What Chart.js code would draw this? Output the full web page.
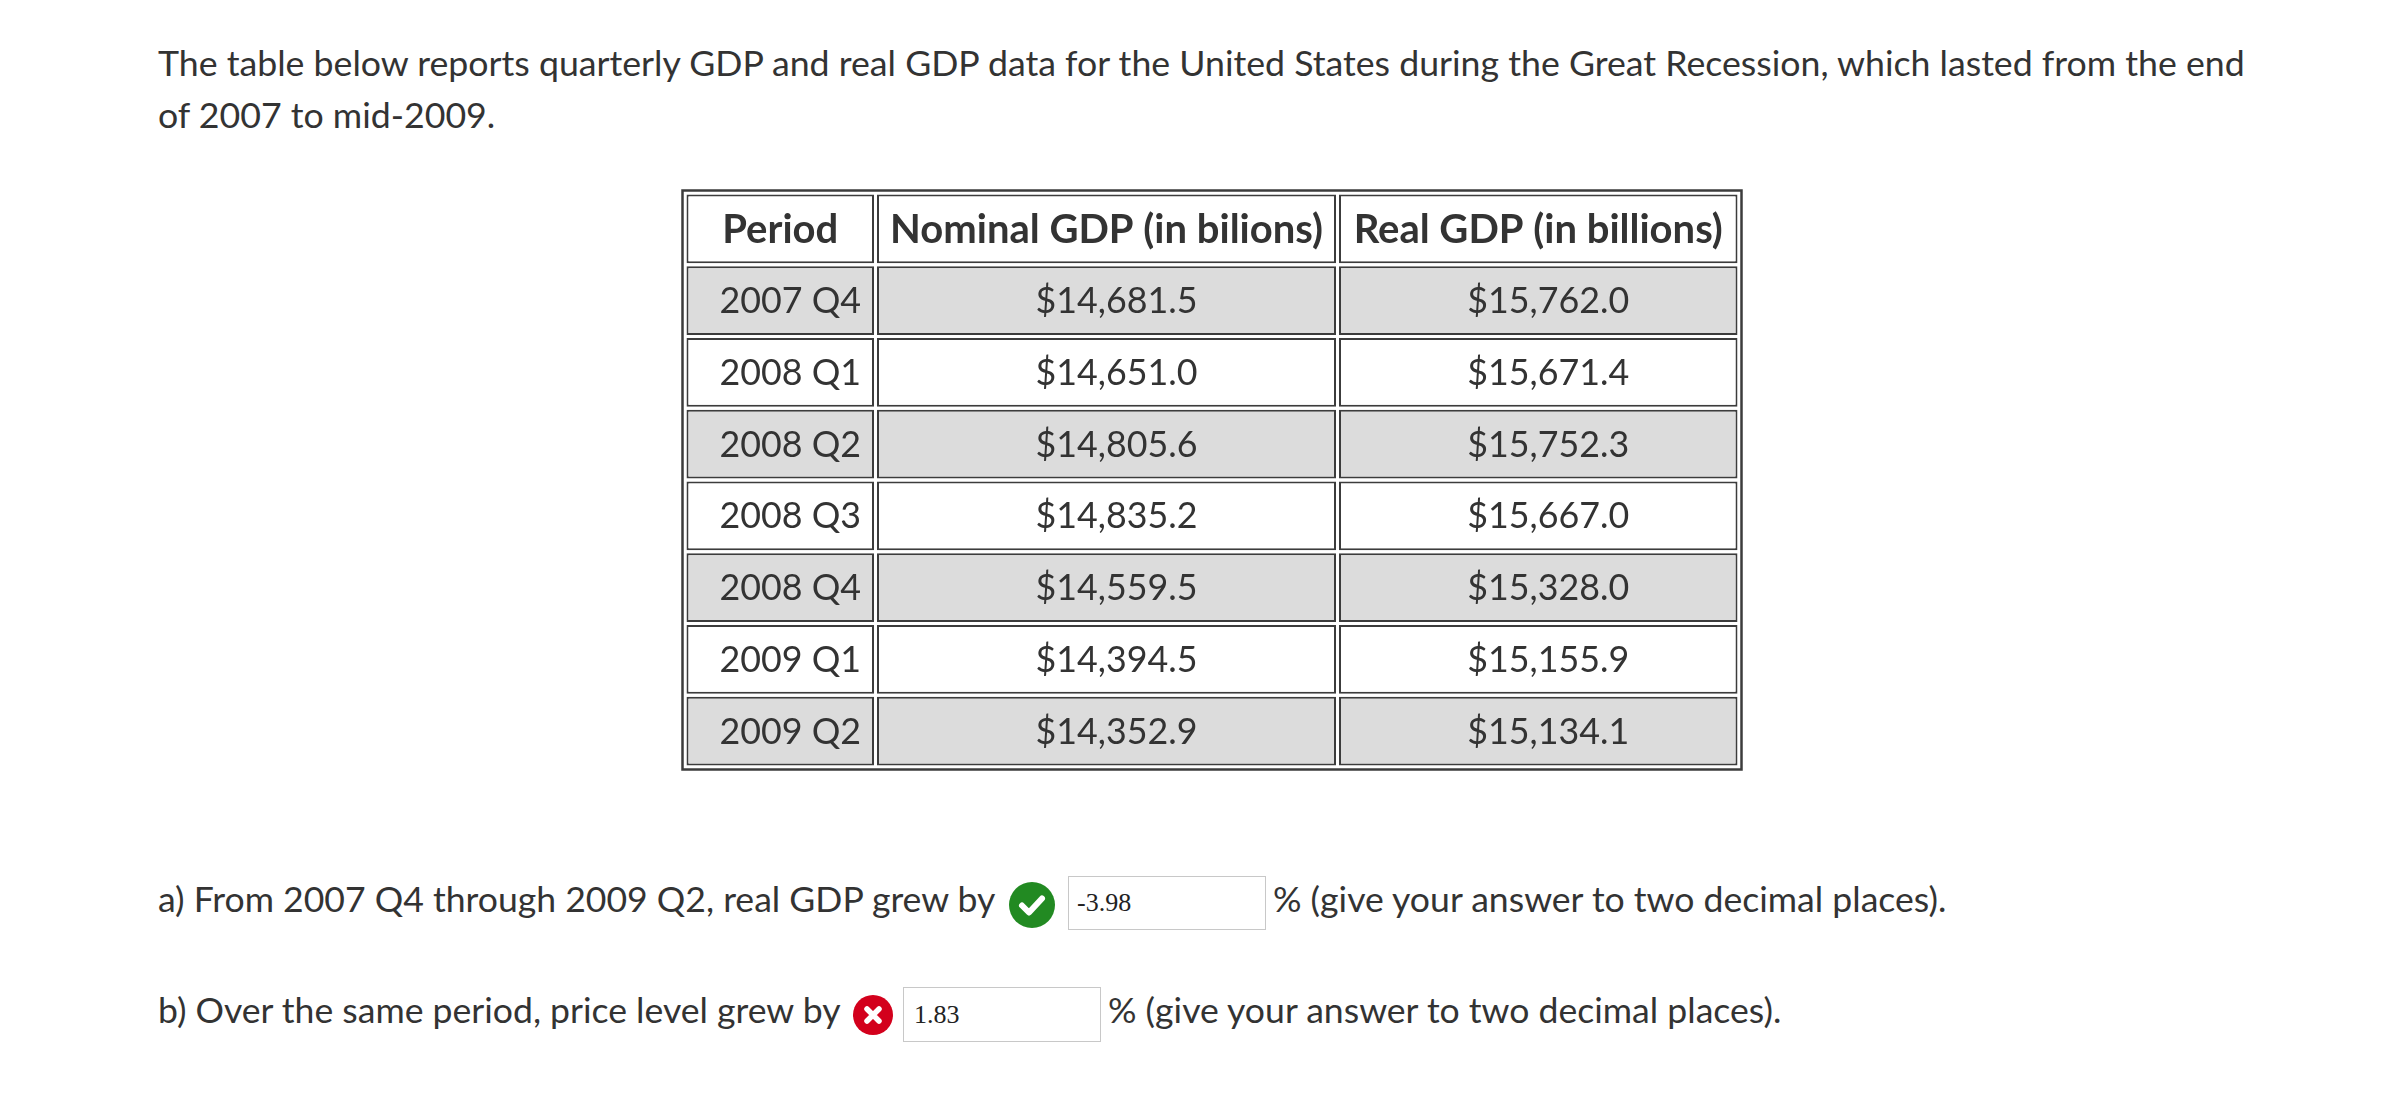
<!DOCTYPE html>
<html>
<head>
<meta charset="utf-8">
<title>Real GDP during the Great Recession</title>
<script src="https://cdn.jsdelivr.net/npm/chart.js@4.4.1/dist/chart.umd.min.js"></script>
<style>
  body{ margin:0; background:#fff; font-family:Lato, "Open Sans", sans-serif; color:#333; }
  #intro{ position:absolute; left:158px; top:37px; width:2200px; font-size:35.7px; line-height:52px; white-space:nowrap; }
  .txt{ position:absolute; font-size:35.6px; line-height:60px; white-space:nowrap; }
  #tableBox{ position:absolute; left:681px; top:189px; width:1062px; height:582px; }
  .icon{ position:absolute; }
  .ans{ position:absolute; box-sizing:border-box; border:1.5px solid #c8c8c8; font-family:"Liberation Serif", serif;
        font-size:26px; color:#222; display:flex; align-items:center; }
</style>
</head>
<body>

<div id="intro">The table below reports quarterly GDP and real GDP data for the United States during the Great Recession, which lasted from the end<br>of 2007 to mid-2009.</div>

<div id="tableBox"><canvas id="gdp-table"></canvas></div>

<span class="txt" style="left:158px; top:869px;">a) From 2007 Q4 through 2009 Q2, real GDP grew by</span>
<svg class="icon" style="left:1009px; top:882px;" width="46" height="46" viewBox="0 0 46 46">
  <circle cx="23" cy="23" r="23" fill="#228a22"/>
  <path d="M13 23.5 L20 30.5 L33 16.5" fill="none" stroke="#fff" stroke-width="6" stroke-linecap="round" stroke-linejoin="round"/>
</svg>
<div class="ans" style="left:1068px; top:876px; width:198px; height:54px; padding-left:8px;">-3.98</div>
<span class="txt" style="left:1273px; top:869px;">% (give your answer to two decimal places).</span>

<span class="txt" style="left:158px; top:980px;">b) Over the same period, price level grew by</span>
<svg class="icon" style="left:853px; top:995px;" width="40" height="40" viewBox="0 0 40 40">
  <circle cx="20" cy="20" r="20" fill="#d3001c"/>
  <path d="M14 14 L26 26 M26 14 L14 26" fill="none" stroke="#fff" stroke-width="5.5" stroke-linecap="round"/>
</svg>
<div class="ans" style="left:903px; top:987px; width:198px; height:55px; padding-left:10px;">1.83</div>
<span class="txt" style="left:1108px; top:980px;">% (give your answer to two decimal places).</span>

<script>
  // table data
  var headers = ['Period', 'Nominal GDP (in bilions)', 'Real GDP (in billions)'];
  var periods = ['2007 Q4', '2008 Q1', '2008 Q2', '2008 Q3', '2008 Q4', '2009 Q1', '2009 Q2'];
  var nominalGdp = [14681.5, 14651.0, 14805.6, 14835.2, 14559.5, 14394.5, 14352.9];
  var realGdp = [15762.0, 15671.4, 15752.3, 15667.0, 15328.0, 15155.9, 15134.1];

  // column edges on the x scale (table width units)
  var colEdges = [0, 190.5, 652.5, 1054];
  var rowLabels = ['header'].concat(periods);

  function money(v){
    return '$' + v.toLocaleString('en-US', {minimumFractionDigits:1, maximumFractionDigits:1});
  }

  function cellText(col, row){
    if (row == 0) return headers[col];
    if (col == 0) return periods[row-1];
    if (col == 1) return money(nominalGdp[row-1]);
    return money(realGdp[row-1]);
  }

  var fills = rowLabels.map(function(l, i){ return (i % 2 == 1) ? '#dcdcdc' : '#ffffff'; });

  var datasets = [];
  for (var c = 0; c < 3; c++){
    var d = [];
    for (var r = 0; r < rowLabels.length; r++){
      d.push([colEdges[c] + 1.5, colEdges[c+1] - 1.5]);
    }
    datasets.push({
      label: headers[c],
      data: d,
      backgroundColor: fills,
      borderColor: '#3c3c3c',
      borderWidth: 2,
      borderSkipped: false,
      grouped: false,
      barPercentage: 0.955,
      categoryPercentage: 1
    });
  }

  var tablePlugin = {
    id: 'tableText',
    beforeDatasetsDraw: function(chart){
      var ctx = chart.ctx, a = chart.chartArea;
      ctx.save();
      ctx.strokeStyle = '#3c3c3c';
      ctx.lineWidth = 2.5;
      ctx.strokeRect(a.left - 2.5, a.top - 2.5, a.right - a.left + 5, a.bottom - a.top + 5);
      ctx.restore();
    },
    afterDatasetsDraw: function(chart){
      var ctx = chart.ctx;
      ctx.save();
      ctx.fillStyle = '#333';
      ctx.textAlign = 'center';
      ctx.textBaseline = 'middle';
      chart.data.datasets.forEach(function(ds, c){
        chart.getDatasetMeta(c).data.forEach(function(bar, r){
          var p = bar.getCenterPoint();
          if (r == 0){
            ctx.font = 'bold 40px Lato';
            ctx.fillText(cellText(c, r), p.x, p.y + 1);
          } else {
            ctx.font = '35.8px Lato';
            ctx.fillText(cellText(c, r), p.x + 10, p.y + 1);
          }
        });
      });
      ctx.restore();
    }
  };

  new Chart(document.getElementById('gdp-table'), {
    type: 'bar',
    data: { labels: rowLabels, datasets: datasets },
    options: {
      indexAxis: 'y',
      responsive: true,
      maintainAspectRatio: false,
      animation: false,
      layout: { padding: 4 },
      plugins: { legend: { display: false }, tooltip: { enabled: false } },
      scales: {
        x: { type: 'linear', min: 0, max: 1054, display: false },
        y: { type: 'category', display: false, offset: true, grid: { display: false } }
      }
    },
    plugins: [tablePlugin]
  });
</script>
</body>
</html>
